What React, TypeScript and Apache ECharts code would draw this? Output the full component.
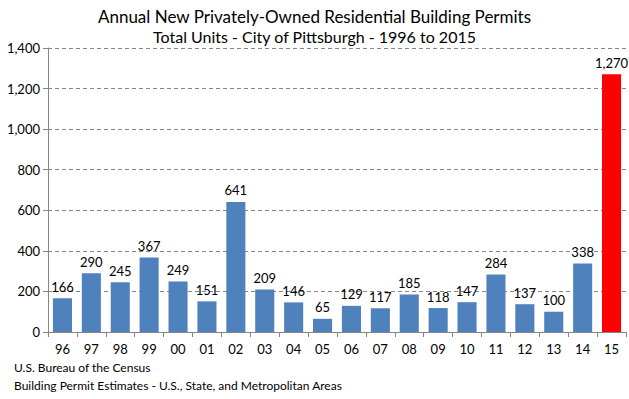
import React, { useEffect, useRef } from "react";
import * as echarts from "echarts";

const categories = ["96","97","98","99","00","01","02","03","04","05","06","07","08","09","10","11","12","13","14","15"];
const values = [166,290,245,367,249,151,641,209,146,65,129,117,185,118,147,284,137,100,338,1270];
const titleLine1 = "Annual New Privately-Owned Residential Building Permits";
const titleLine2 = "Total Units - City of Pittsburgh - 1996 to 2015";
const sourceLine1 = "U.S. Bureau of the Census";
const sourceLine2 = "Building Permit Estimates - U.S., State, and Metropolitan Areas";

const FONT = "Lato, 'Open Sans', sans-serif";

export default function App() {
  const ref = useRef<HTMLDivElement>(null);
  useEffect(() => {
    const chart = echarts.init(ref.current!, null, { renderer: "svg" });
    chart.setOption({
      animation: false,
      backgroundColor: "#fff",
      textStyle: { fontFamily: FONT },
      title: [
        { text: titleLine1, left: "center", top: 3, textStyle: { fontSize: 17, fontWeight: "normal", color: "#000", fontFamily: FONT } },
        { text: titleLine2, left: "center", top: 23, textStyle: { fontSize: 16, fontWeight: "normal", color: "#000", fontFamily: FONT } },
      ],
      graphic: [
        { type: "text", left: 14, top: 361, style: { text: sourceLine1, fontSize: 12, fill: "#000", fontFamily: FONT } },
        { type: "text", left: 14, top: 379, style: { text: sourceLine2, fontSize: 12, fill: "#000", fontFamily: FONT } },
      ],
      grid: { left: 48, right: 3, top: 48, bottom: 67, containLabel: false },
      xAxis: {
        type: "category",
        data: categories,
        axisLine: { lineStyle: { color: "#868686" } },
        axisTick: { show: true, alignWithLabel: false, length: 5, lineStyle: { color: "#868686" } },
        axisLabel: { color: "#000", fontSize: 13, margin: 10, fontFamily: FONT },
      },
      yAxis: {
        type: "value",
        min: 0,
        max: 1400,
        interval: 200,
        axisLine: { show: true, lineStyle: { color: "#868686" } },
        axisTick: { show: true, length: 5, lineStyle: { color: "#868686" } },
        axisLabel: {
          color: "#000",
          fontSize: 13,
          margin: 8,
          fontFamily: FONT,
          formatter: (v: number) => v.toLocaleString("en-US"),
        },
        splitLine: { lineStyle: { color: "#868686", type: [4, 3] } },
      },
      series: [
        {
          type: "bar",
          data: values.map((v, i) => ({
            value: v,
            itemStyle: { color: i === values.length - 1 ? "#FF0000" : "#4F81BD" },
          })),
          barCategoryGap: "34%",
          label: {
            show: true,
            position: "top",
            distance: 5,
            color: "#000",
            fontSize: 13,
            fontFamily: FONT,
            formatter: (p: any) => Number(p.value).toLocaleString("en-US"),
          },
        },
      ],
    });
    return () => chart.dispose();
  }, []);
  return <div ref={ref} style={{ width: 629, height: 399, position: "absolute", left: 0, top: 0 }} />;
}
